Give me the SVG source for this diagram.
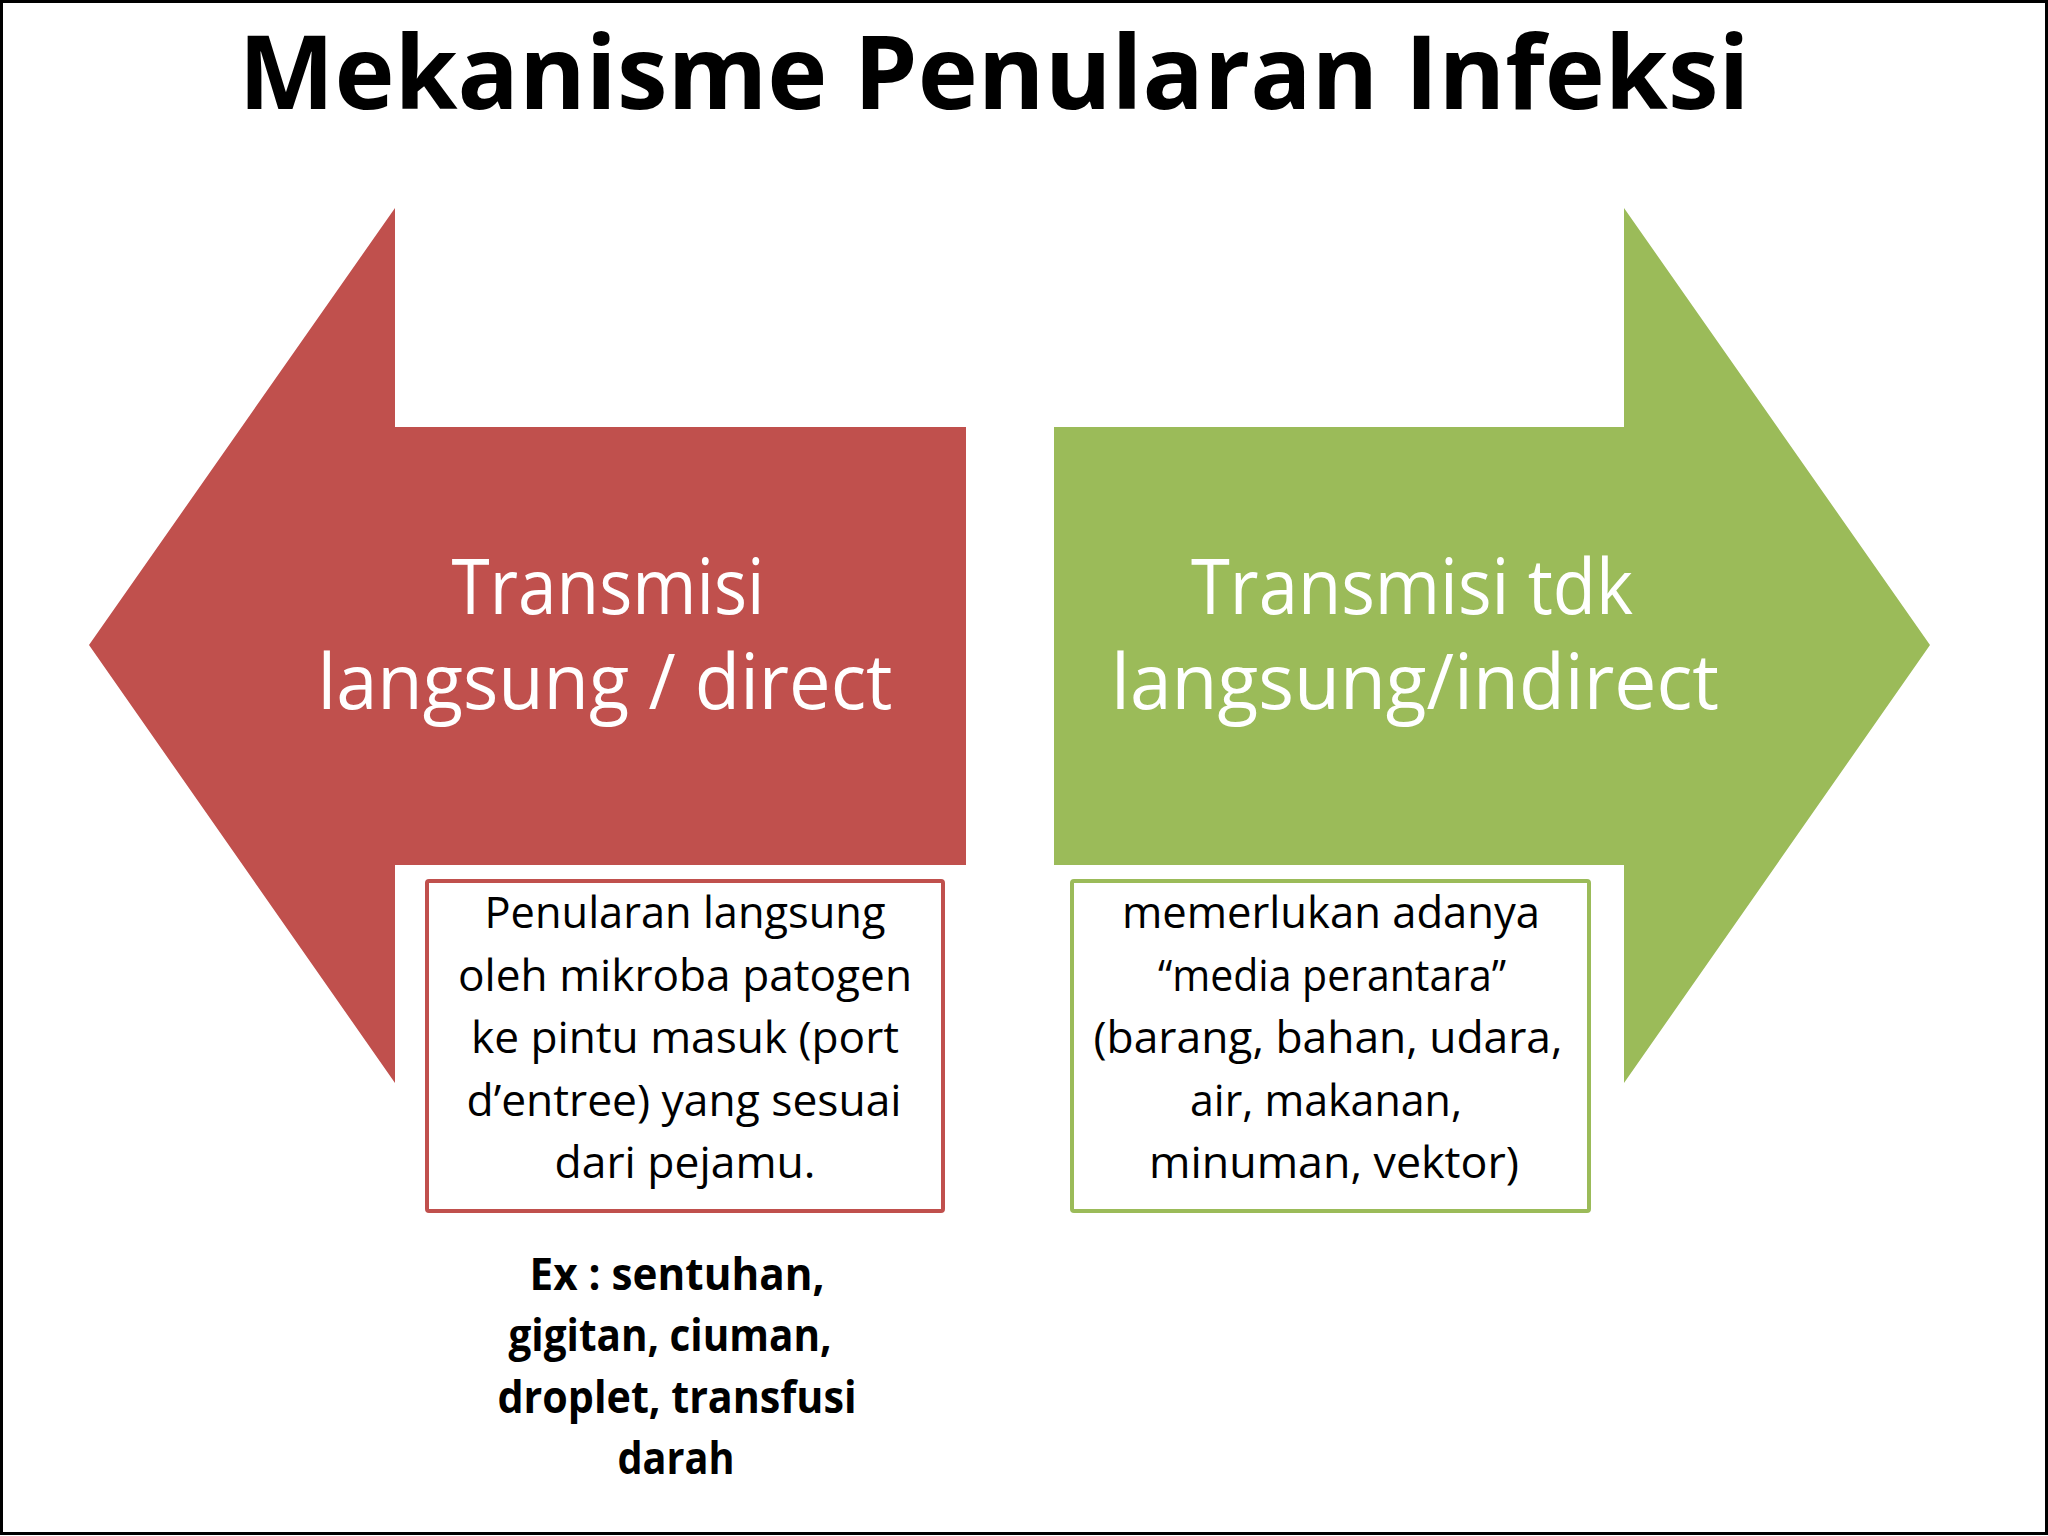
<svg xmlns="http://www.w3.org/2000/svg" width="2048" height="1536" viewBox="0 0 2048 1536">
<style>
.title{font-family:"Open Sans","Liberation Sans",sans-serif;font-weight:700;font-size:102px;fill:#000;text-anchor:middle}
.arr{font-family:"Open Sans","Liberation Sans",sans-serif;font-size:77px;fill:#fff;text-anchor:middle}
.box{font-family:"Open Sans","Liberation Sans",sans-serif;font-size:44px;fill:#000;text-anchor:middle}
.ex{font-family:"Open Sans","Liberation Sans",sans-serif;font-weight:700;font-size:44px;fill:#000;text-anchor:middle}
.redbox{fill:#fff;stroke:#C0504D;stroke-width:4}
.greenbox{fill:#fff;stroke:#9BBB59;stroke-width:4}
</style>
<rect x="0" y="0" width="2048" height="1536" fill="#fff"/>
<rect x="1.5" y="1.5" width="2045" height="1532" fill="none" stroke="#000" stroke-width="3"/>
<text class="title" x="994" y="109" textLength="1511" lengthAdjust="spacingAndGlyphs">Mekanisme Penularan Infeksi</text>
<g id="direct">
<polygon points="89,645 395,208 395,427 966,427 966,865 395,865 395,1083" fill="#C0504D"/>
<text class="arr" x="608" y="614" textLength="313" lengthAdjust="spacingAndGlyphs">Transmisi</text>
<text class="arr" x="605" y="709" textLength="575" lengthAdjust="spacingAndGlyphs">langsung / direct</text>
</g>
<g id="indirect">
<polygon points="1054,427 1624,427 1624,208 1930,645 1624,1083 1624,865 1054,865" fill="#9BBB59"/>
<text class="arr" x="1412" y="614" textLength="442" lengthAdjust="spacingAndGlyphs">Transmisi tdk</text>
<text class="arr" x="1415" y="709" textLength="608" lengthAdjust="spacingAndGlyphs">langsung/indirect</text>
</g>
<g id="direct-desc">
<rect class="redbox" x="427" y="881" width="516" height="330" rx="2"/>
<text class="box" x="685" y="928" textLength="401" lengthAdjust="spacingAndGlyphs">Penularan langsung</text>
<text class="box" x="685" y="991" textLength="454" lengthAdjust="spacingAndGlyphs">oleh mikroba patogen</text>
<text class="box" x="685" y="1053" textLength="428" lengthAdjust="spacingAndGlyphs">ke pintu masuk (port</text>
<text class="box" x="684" y="1116" textLength="435" lengthAdjust="spacingAndGlyphs">d’entree) yang sesuai</text>
<text class="box" x="685" y="1178" textLength="261" lengthAdjust="spacingAndGlyphs">dari pejamu.</text>
</g>
<g id="indirect-desc">
<rect class="greenbox" x="1072" y="881" width="517" height="330" rx="2"/>
<text class="box" x="1331" y="928" textLength="418" lengthAdjust="spacingAndGlyphs">memerlukan adanya</text>
<text class="box" x="1332" y="991" textLength="348" lengthAdjust="spacingAndGlyphs">“media perantara”</text>
<text class="box" x="1328" y="1053" textLength="469" lengthAdjust="spacingAndGlyphs">(barang, bahan, udara,</text>
<text class="box" x="1326" y="1116" textLength="272" lengthAdjust="spacingAndGlyphs">air, makanan,</text>
<text class="box" x="1334" y="1178" textLength="370" lengthAdjust="spacingAndGlyphs">minuman, vektor)</text>
</g>
<g id="examples">
<text class="ex" x="677" y="1290" textLength="295" lengthAdjust="spacingAndGlyphs">Ex : sentuhan,</text>
<text class="ex" x="670" y="1351" textLength="323" lengthAdjust="spacingAndGlyphs">gigitan, ciuman,</text>
<text class="ex" x="677" y="1413" textLength="359" lengthAdjust="spacingAndGlyphs">droplet, transfusi</text>
<text class="ex" x="676" y="1474" textLength="117" lengthAdjust="spacingAndGlyphs">darah</text>
</g>
<g id="connectors"/>
</svg>
